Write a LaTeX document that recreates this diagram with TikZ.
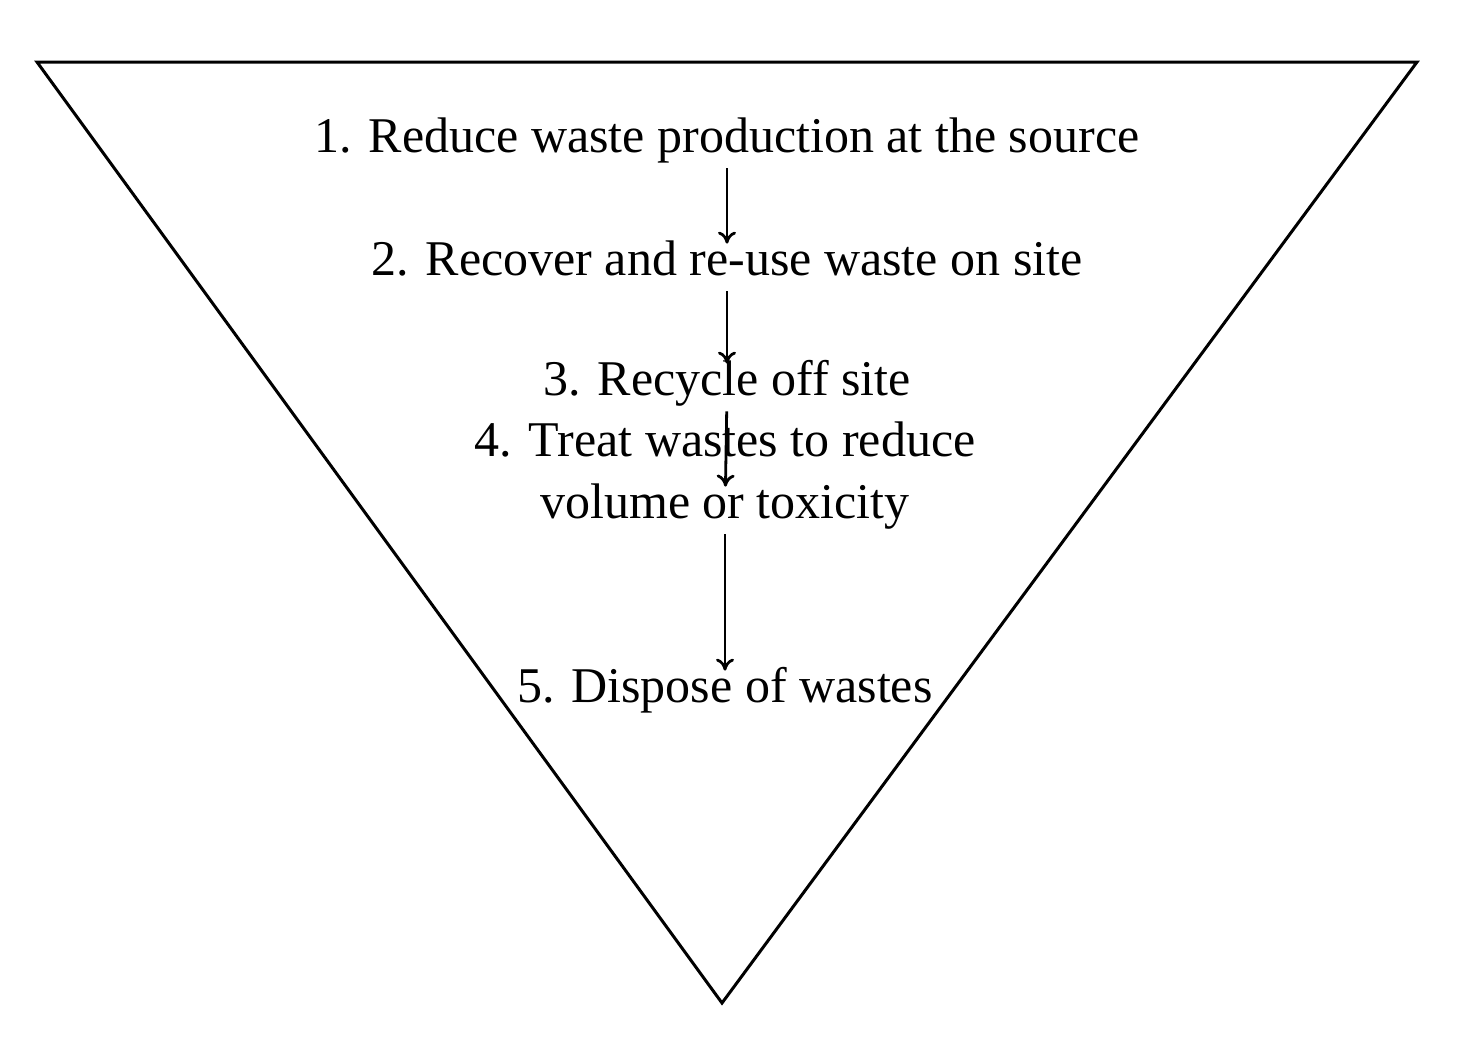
\documentclass[tikz,border=0pt]{standalone}
\usepackage{fontspec}
\setmainfont{Liberation Serif}
\usetikzlibrary{arrows.meta}
\begin{document}
\begin{tikzpicture}[x=1pt,y=-1pt,
  lbl/.style={inner sep=0pt,anchor=base,font=\fontsize{50}{62}\selectfont,align=center,text depth=0.22em,text height=0.72em},
  flowarrow/.style={-{To[length=12pt,width=18pt]},line width=2.8pt,shorten <=14pt,shorten >=24pt}]
\useasboundingbox (0,0) rectangle (1469,1053);
\draw[line width=3pt,line join=miter] (37,62) -- (1417,62) -- (722,1003) -- cycle;
\node[lbl] (n1) at (727,152) {1. Reduce waste production at the source};
\node[lbl] (n2) at (727,275) {2. Recover and re-use waste on site};
\node[lbl] (n3) at (727,395) {3. Recycle off site};
\node[lbl] (n4) at (725,518) {4. Treat wastes to reduce\\volume or toxicity};
\node[lbl] (n5) at (725,702) {5. Dispose of wastes};
\draw[flowarrow] (n1) -- (n2);
\draw[flowarrow] (n2) -- (n3);
\draw[flowarrow] (n3) -- (n4);
\draw[flowarrow] (n4) -- (n5);
\end{tikzpicture}
\end{document}
